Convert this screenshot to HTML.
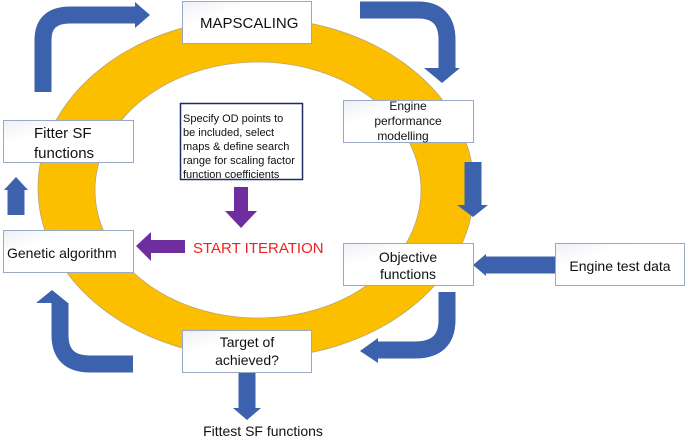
<!DOCTYPE html>
<html><head><style>
html,body{margin:0;padding:0;background:#fff;}
svg{display:block;}
text{font-family:"Liberation Sans",sans-serif;fill:#111;}
</style></head><body>
<svg width="685" height="440" viewBox="0 0 685 440" xmlns="http://www.w3.org/2000/svg">
<defs>
<linearGradient id="bx" x1="0" y1="0" x2="1" y2="1">
<stop offset="0" stop-color="#eef0f6"/><stop offset="0.3" stop-color="#ffffff"/><stop offset="1" stop-color="#ffffff"/>
</linearGradient>
</defs>
<path fill-rule="evenodd" fill="#fcbf00" stroke="#b8a570" stroke-width="0.8" d="M38,188 a218,170 0 1,0 436,0 a218,170 0 1,0 -436,0 Z M95,190 a163,128 0 1,0 326,0 a163,128 0 1,0 -326,0 Z"/>
<g fill="none" stroke="#3d62ad" stroke-width="17">
<path d="M43,92 V40 Q43,15 70,15 H137"/>
<path d="M360,10 H418 Q447,10 447,40 V68"/>
<path d="M473,162 V205"/>
<path d="M556,265 H486"/>
<path d="M447,292 V320 Q447,350 415,350 H378"/>
<path d="M133,364 H90 Q60,364 60,335 V303"/>
<path d="M16,215 V190"/>
<path d="M247,373 V410"/>
</g>
<g fill="#3d62ad">
<polygon points="135,2 150,15 135,28"/>
<polygon points="424,68 460,68 442,83"/>
<polygon points="457,205 488,205 473,217"/>
<polygon points="486,254 486,276 473,265"/>
<polygon points="378,338 378,363 360,351"/>
<polygon points="36,303 68,303 52,290"/>
<polygon points="4,190 28,190 16,177"/>
<polygon points="233,408 261,408 247,420"/>
</g>
<g fill="#6f2e9e">
<rect x="234" y="187" width="14" height="25"/>
<polygon points="225,211 257,211 241,228"/>
<rect x="150" y="240" width="35" height="13"/>
<polygon points="151,232 151,261 136,246"/>
</g>
<g fill="url(#bx)" stroke="#9aa8c3" stroke-width="1">
<rect x="182.5" y="1.5" width="129" height="42"/>
<rect x="3.5" y="120.5" width="130" height="42"/>
<rect x="343.5" y="100.5" width="130" height="42"/>
<rect x="3.5" y="230.5" width="130" height="42"/>
<rect x="343.5" y="243.5" width="130" height="42"/>
<rect x="555.5" y="243.5" width="129" height="42"/>
<rect x="182.5" y="330.5" width="129" height="42"/>
</g>
<rect x="180.5" y="103.5" width="122" height="76" fill="#fff" stroke="#1f2a5e" stroke-width="1.5"/>
<text x="200" y="28" font-size="15">MAPSCALING</text>
<text x="34" y="138" font-size="15">Fitter SF</text>
<text x="34" y="158" font-size="15">functions</text>
<g font-size="11">
<text x="183" y="122">Specify OD points to</text>
<text x="183" y="136">be included, select</text>
<text x="183" y="150">maps &amp; define search</text>
<text x="183" y="164">range for scaling factor</text>
<text x="183" y="178">function coefficients</text>
</g>
<g font-size="12" text-anchor="middle">
<text x="408" y="110">Engine</text>
<text x="408" y="125">performance</text>
<text x="403" y="140">modelling</text>
</g>
<text x="7" y="258" font-size="14">Genetic algorithm</text>
<text x="193" y="253" font-size="15" style="fill:#ee2222">START ITERATION</text>
<g font-size="14" text-anchor="middle">
<text x="408" y="262">Objective</text>
<text x="408" y="279">functions</text>
<text x="620" y="271">Engine test data</text>
<text x="247" y="347">Target of</text>
<text x="247" y="365">achieved?</text>
<text x="263" y="436">Fittest SF functions</text>
</g>
</svg>
</body></html>
